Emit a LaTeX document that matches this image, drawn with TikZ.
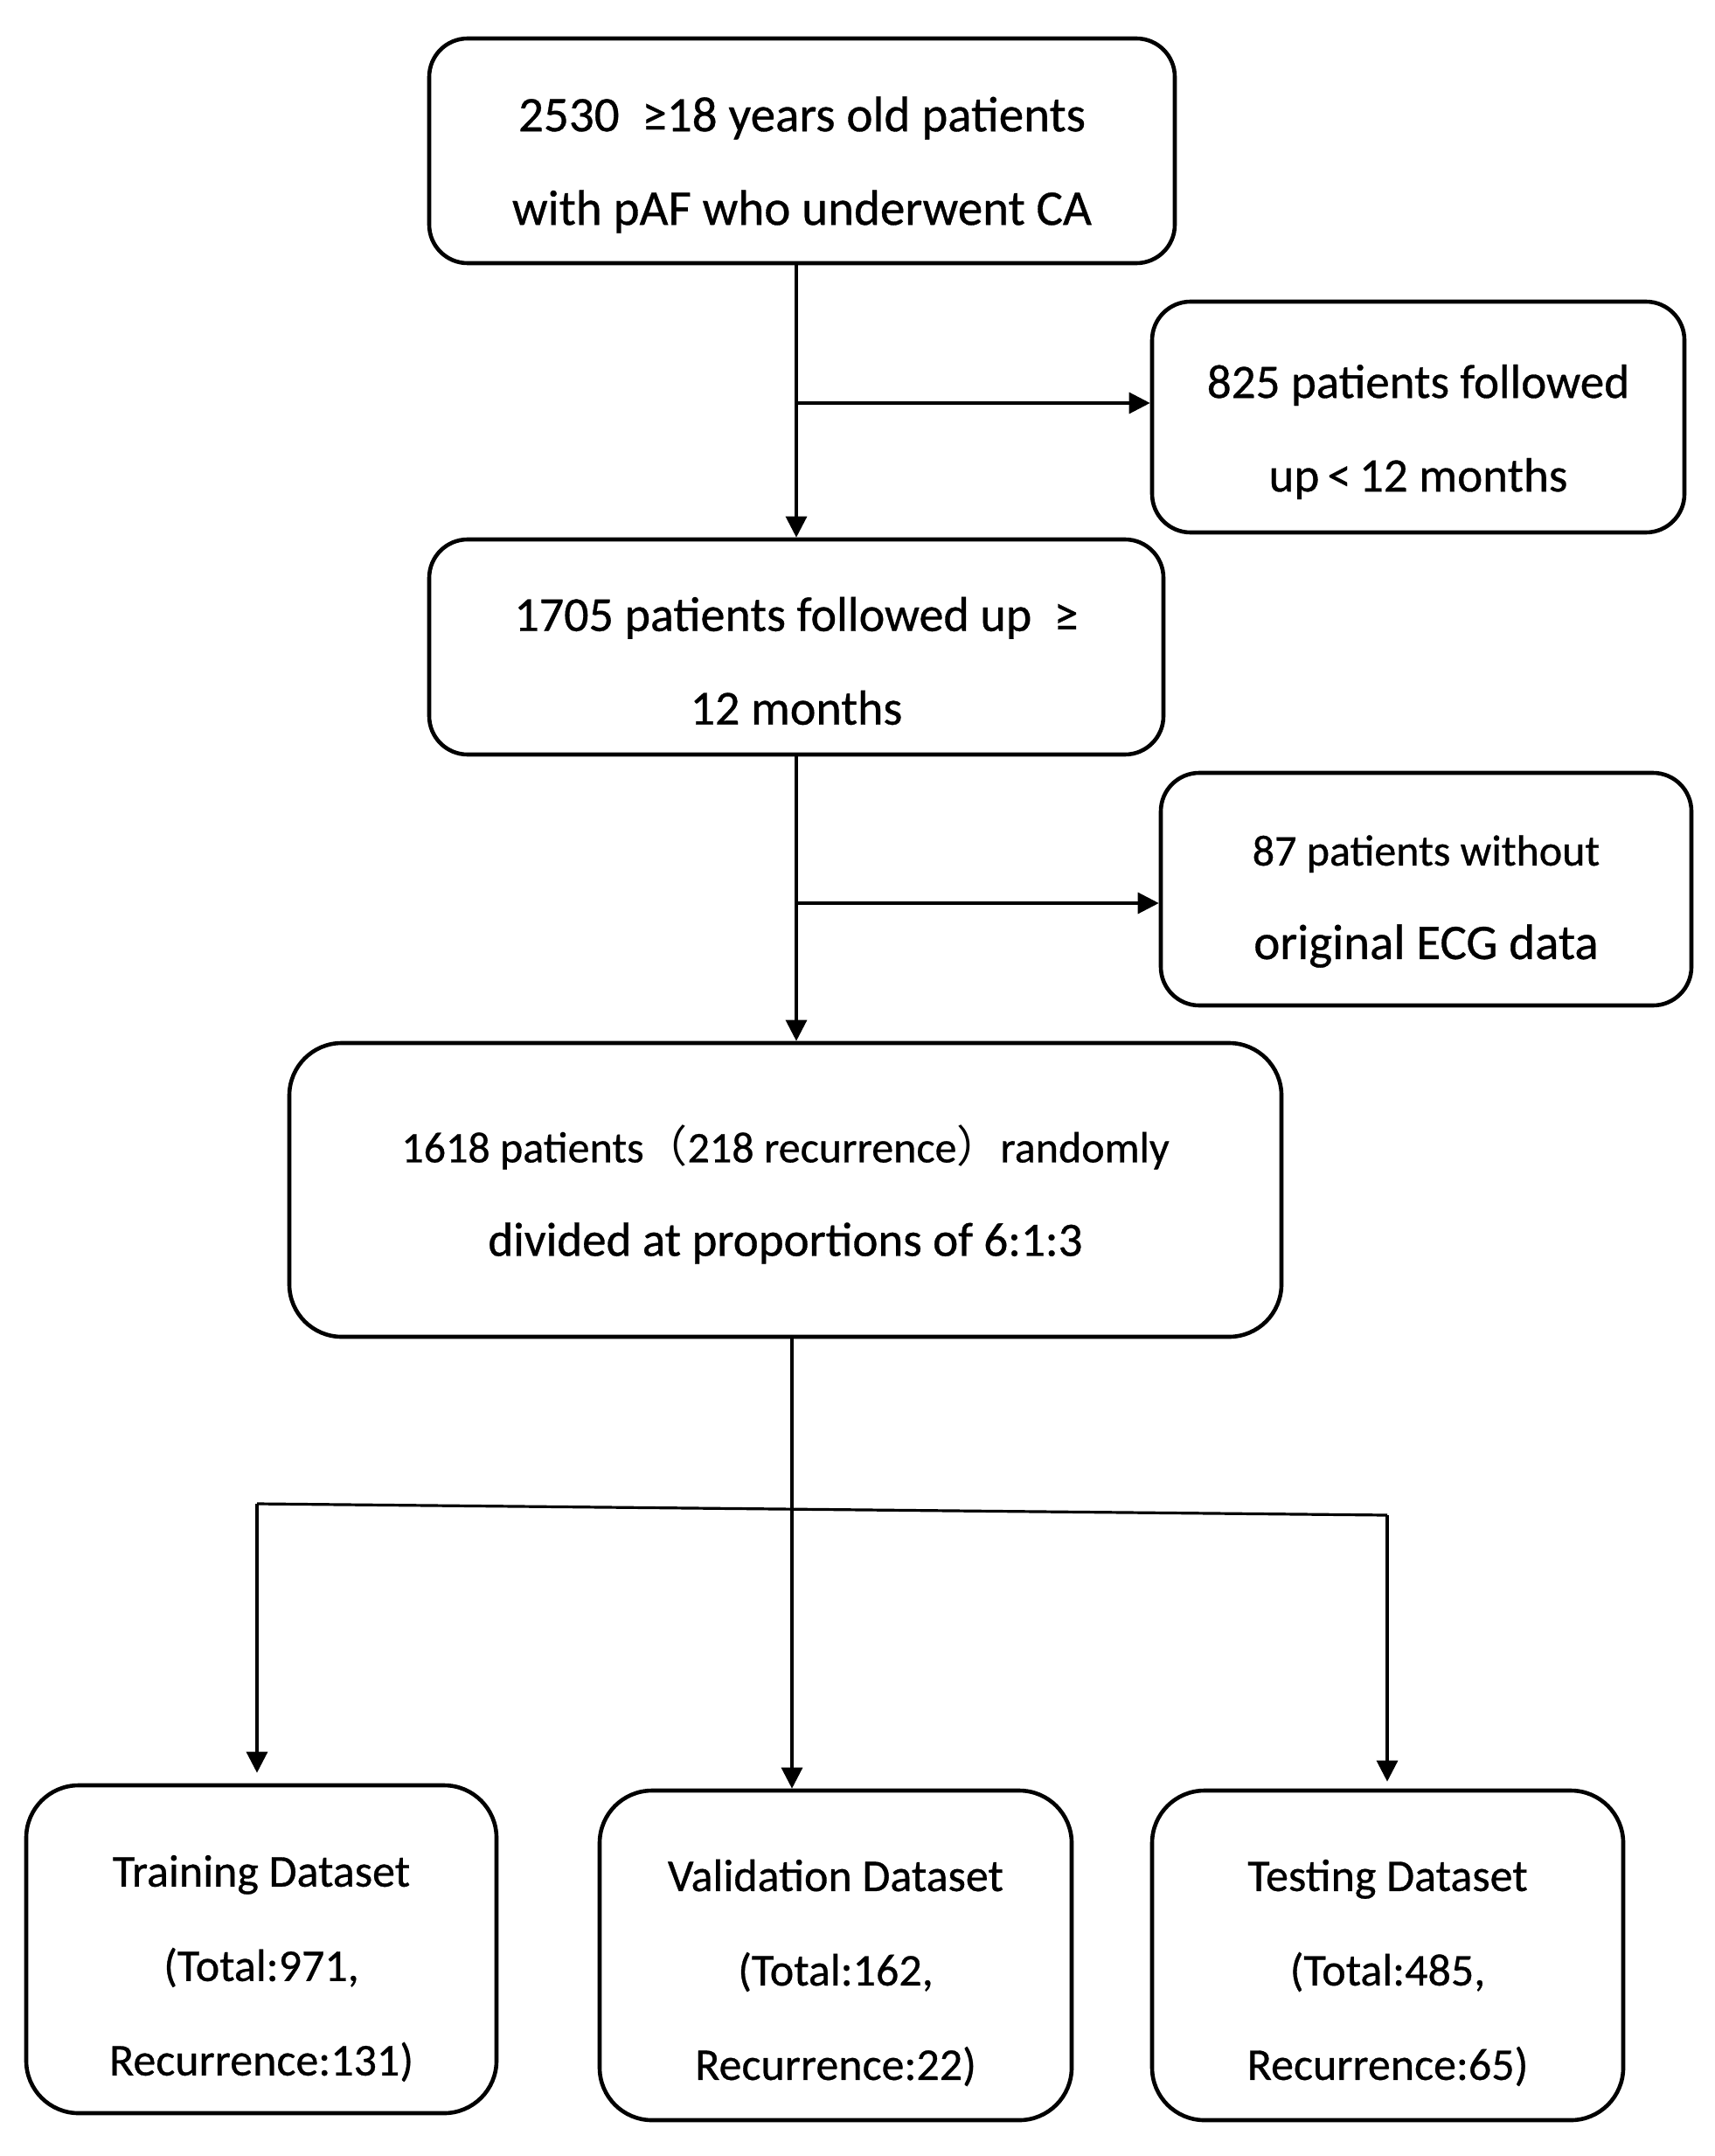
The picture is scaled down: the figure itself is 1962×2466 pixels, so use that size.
\documentclass[tikz,border=0pt]{standalone}
\usepackage{fontspec}
\setmainfont{Carlito}[FakeBold=0.6]
\newfontfamily\cjk{Noto Sans CJK SC}
\usetikzlibrary{arrows.meta}
\begin{document}
\begin{tikzpicture}[x=0.5pt,y=-0.5pt,
  box/.style={draw, line width=2.3pt, rounded corners=22pt, inner sep=0pt},
  bigbox/.style={box, rounded corners=30pt},
  txt/.style={align=center, inner sep=0pt},
  arr/.style={line width=1.6pt, -{Triangle[length=12pt,width=12pt]}},
  ln/.style={line width=1.6pt}]
\useasboundingbox (0,0) rectangle (1962,2466);
% boxes
\node[box, minimum width=426.5pt, minimum height=128.5pt] (b1) at (917.5,172.5) {};
\node[box, minimum width=304.5pt, minimum height=132pt] (b2) at (1622.5,477) {};
\node[box, minimum width=420pt, minimum height=123pt] (b3) at (911,740) {};
\node[box, minimum width=303.5pt, minimum height=133pt] (b4) at (1631.5,1017) {};
\node[bigbox, minimum width=567.5pt, minimum height=168pt] (b5) at (898.5,1361) {};
\node[bigbox, minimum width=269pt, minimum height=187.5pt] (b6) at (299,2229.5) {};
\node[bigbox, minimum width=270pt, minimum height=188.5pt] (b7) at (956,2236.5) {};
\node[bigbox, minimum width=269.5pt, minimum height=188.5pt] (b8) at (1587.5,2236.5) {};
% texts
\node[txt, font=\fontsize{28.5}{53.5}\selectfont] (t1) at ([yshift=-8pt]b1.center)
  {2530\ \ ≥18 years old patients\\with pAF who underwent CA};
\node[txt, font=\fontsize{27.5}{53.5}\selectfont] (t2) at ([yshift=-8.5pt]b2.center)
  {825 patients followed\\up\,<\,12 months};
\node[txt, font=\fontsize{28}{53.5}\selectfont] (t3) at ([yshift=-8pt]b3.center)
  {1705 patients followed up\ \ ≥\\12 months};
\node[txt, font=\fontsize{25}{53.5}\selectfont] (t4) at ([yshift=-7pt]b4.center)
  {87 patients without\\{\fontsize{28.5}{53.5}\selectfont original ECG data}};
\node[txt, font=\fontsize{25}{53.5}\selectfont] (t5) at ([yshift=-2.5pt]b5.center)
  {1618 patients{\cjk （}218 recurrence{\cjk ）}randomly\\{\fontsize{27.5}{53.5}\selectfont divided at proportions of 6:1:3}};
\node[txt, font=\fontsize{26}{54}\selectfont] (t6) at ([yshift=-11pt]b6.center)
  {Training Dataset\\(Total:971,\\Recurrence:131)};
\node[txt, font=\fontsize{26}{54}\selectfont] (t7) at ([yshift=-10pt]b7.center)
  {Validation Dataset\\(Total:162,\\Recurrence:22)};
\node[txt, font=\fontsize{26}{54}\selectfont] (t8) at ([yshift=-10pt]b8.center)
  {Testing Dataset\\(Total:485,\\Recurrence:65)};
% connectors
\draw[arr] (b1.south -| b3.north) -- (b3.north);
\coordinate (j1) at (911,461);
\draw[arr] (j1) -- (j1 -| b2.west);
\draw[arr] (b3.south) -- (b3.south |- b5.north);
\coordinate (j2) at (911,1033);
\draw[arr] (j2) -- (j2 -| b4.west);
\draw[arr] ([xshift=3.75pt]b5.south) -- ([xshift=3.75pt]b5.south |- b7.north);
\coordinate (sl) at (294,1720);
\coordinate (sr) at (1587,1733);
\draw[ln] (sl) -- (sr);
\draw[arr, shorten >=6pt] (sl) -- (sl |- b6.north);
\draw[arr, shorten >=4pt] (sr) -- (sr |- b8.north);
\end{tikzpicture}
\end{document}
